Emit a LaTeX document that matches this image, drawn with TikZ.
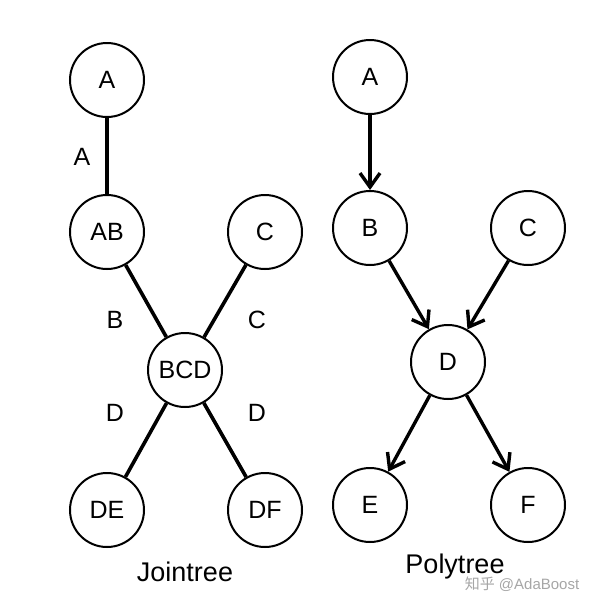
\documentclass[tikz,border=0pt]{standalone}
\usepackage{fontspec}
\setmainfont{Liberation Sans}
\newfontfamily\cjk{Noto Sans CJK SC}
\usetikzlibrary{arrows.meta}
\begin{document}
\begin{tikzpicture}[x=1pt,y=-1pt,
  nd/.style={circle,draw,line width=2pt,minimum size=74pt,inner sep=0pt,font=\fontsize{25}{27}\selectfont},
  ed/.style={line width=3.6pt},
  ar/.style={line width=3.4pt,-{Straight Barb[length=14pt,width=20pt,line width=3.4pt]}},
  lb/.style={font=\fontsize{25}{27}\selectfont}]
\useasboundingbox (0,0) rectangle (600,608);
\node[nd] (a) at (107,80) {A};
\node[nd] (ab) at (107,232) {AB};
\node[nd] (c) at (265,232) {C};
\node[nd] (bcd) at (185,370) {BCD};
\node[nd] (de) at (107,510) {DE};
\node[nd] (df) at (265,510) {DF};
\draw[ed] (a) -- (ab);
\draw[ed] (ab) -- (bcd);
\draw[ed] (c) -- (bcd);
\draw[ed] (bcd) -- (de);
\draw[ed] (bcd) -- (df);
\node[lb] at (82,157) {A};
\node[lb] at (115,320) {B};
\node[lb] at (257,320) {C};
\node[lb] at (115,413) {D};
\node[lb] at (257,413) {D};
\node[lb,font=\fontsize{27}{29}\selectfont] (jt) at (185,572) {Jointree};
\node[nd] (pa) at (370,77) {A};
\node[nd] (pb) at (370,228) {B};
\node[nd] (pc) at (528,228) {C};
\node[nd] (pd) at (448,362) {D};
\node[nd] (pe) at (370,505) {E};
\node[nd] (pf) at (528,505) {F};
\draw[ar] (pa) -- (pb);
\draw[ar] (pb) -- (pd);
\draw[ar] (pc) -- (pd);
\draw[ar] (pd) -- (pe);
\draw[ar] (pd) -- (pf);
\node[lb,font=\fontsize{27}{29}\selectfont] (pt) at (455,567) {Polytree};
\node[text=gray!70,font=\fontsize{15}{16}\selectfont] (wm) at (522,584) {{\cjk 知乎} @AdaBoost};
\end{tikzpicture}
\end{document}
